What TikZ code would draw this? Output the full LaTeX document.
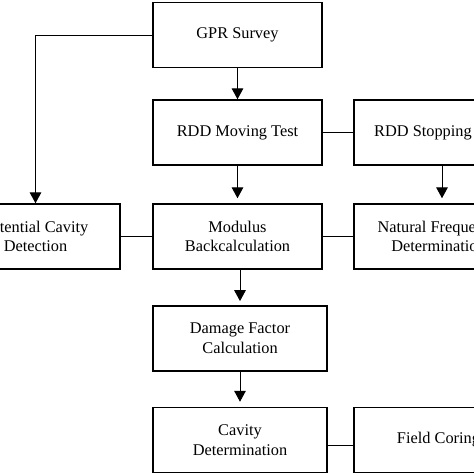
\documentclass[tikz,border=0pt]{standalone}
\usepackage{fontspec}
\setmainfont{Liberation Serif}
\usetikzlibrary{arrows.meta}

\tikzset{
	stagebox/.style = {draw, line width=0.9pt, minimum width=101.4pt, minimum height=39pt, align=center, inner sep=0pt, font=\fontsize{9.8}{11.8}\selectfont},
	widebox/.style = {stagebox, minimum width=104.4pt},
	flowarrow/.style = {line width=0.6pt, -{Triangle[length=6.6pt,width=7pt]}},
	tieline/.style = {line width=0.5pt}
}

\begin{document}
\begin{tikzpicture}[x=0.6pt, y=-0.6pt]
			\useasboundingbox (0,0) rectangle (474,474);
			\clip (0,0) rectangle (474,474);
			\node[stagebox] (gpr) at (237.5,35) {GPR Survey};
			\node[stagebox] (move) at (237.5,132.5) {RDD Moving Test};
			\node[stagebox] (stop) at (438.5,132.5) {RDD Stopping Test};
			\node[stagebox] (pot) at (35.5,236.5) {Potential Cavity\\Detection};
			\node[stagebox] (mod) at (237.5,236.5) {Modulus\\Backcalculation};
			\node[stagebox] (nat) at (438.5,236.5) {Natural Frequency\\Determination};
			\node[widebox] (dam) at (240,338.5) {Damage Factor\\Calculation};
			\node[widebox] (cav) at (240,440) {Cavity\\Determination};
			\node[stagebox] (core) at (438.5,440) {Field Coring};
			
			\draw[flowarrow] (gpr) -- (move);
			\draw[flowarrow] (gpr.west) -| (pot.north);
			\draw[flowarrow, shorten >=3pt] (move) -- (mod);
			\draw[flowarrow, shorten >=3pt] (stop.south -| 442,0) -- (nat.north -| 442,0);
			\draw[flowarrow, shorten >=2.5pt] (dam.north |- mod.south) -- (dam.north);
			\draw[flowarrow, shorten >=3pt] (dam) -- (cav);
			
			\draw[tieline] (move) -- (stop);
			\draw[tieline] (pot) -- (mod);
			\draw[tieline] (mod) -- (nat);
			\draw[tieline] (cav.east |- 0,445) -- (core.west |- 0,445);
			\end{tikzpicture}
\end{document}
